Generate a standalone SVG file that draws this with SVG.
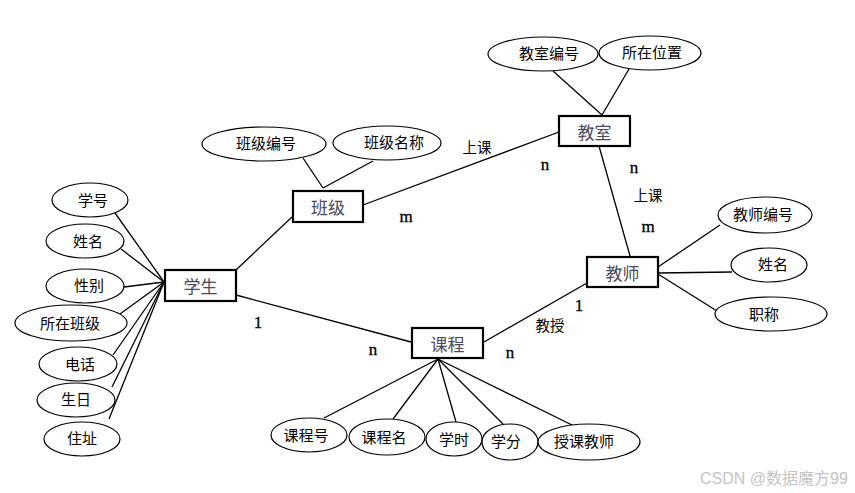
<svg xmlns="http://www.w3.org/2000/svg" width="855" height="493" viewBox="0 0 855 493">
<style>
.ent{fill:#fff;stroke:#000;stroke-width:2.2}
.att{fill:#fff;stroke:#000;stroke-width:1.2}
.et{font-family:"Noto Sans CJK SC","Noto Sans",sans-serif;font-size:17px;fill:#4a4a5a;text-anchor:middle;dominant-baseline:central}
.at{font-family:"Noto Sans CJK SC","Noto Sans",sans-serif;font-size:15px;fill:#000;text-anchor:middle;dominant-baseline:central}
.lb{font-family:"Noto Sans CJK SC","Noto Sans",sans-serif;font-size:14.5px;fill:#000;text-anchor:middle;dominant-baseline:central}
.card{font-family:"Liberation Serif","Times New Roman",serif;font-size:17px;fill:#000;stroke:#000;stroke-width:0.3;text-anchor:middle;dominant-baseline:central}
.wm{font-family:"Liberation Sans",Arial,"Noto Sans CJK SC",sans-serif;font-size:16px;fill:#c4c4c4}
#connectors line{stroke:#000;stroke-width:1.3}
</style>
<rect width="855" height="493" fill="#fff"/>
<g id="connectors">
<line x1="164" y1="282" x2="115" y2="213"/>
<line x1="164" y1="282" x2="121" y2="249"/>
<line x1="164" y1="282" x2="124" y2="287"/>
<line x1="164" y1="282" x2="120" y2="314"/>
<line x1="164" y1="282" x2="113" y2="355"/>
<line x1="164" y1="282" x2="112" y2="387"/>
<line x1="164" y1="282" x2="109" y2="419"/>
<line x1="236" y1="270" x2="292" y2="217"/>
<line x1="236" y1="295" x2="411" y2="342"/>
<line x1="323" y1="188" x2="303" y2="158"/>
<line x1="323" y1="188" x2="373" y2="161"/>
<line x1="363" y1="205" x2="559" y2="132"/>
<line x1="602" y1="115" x2="553" y2="71"/>
<line x1="602" y1="115" x2="629" y2="69"/>
<line x1="599" y1="146" x2="630" y2="256"/>
<line x1="658" y1="267" x2="720" y2="225"/>
<line x1="658" y1="273" x2="732" y2="272"/>
<line x1="658" y1="274" x2="717" y2="311"/>
<line x1="484" y1="342" x2="587" y2="283"/>
<line x1="438" y1="359" x2="324" y2="418"/>
<line x1="438" y1="359" x2="393" y2="419"/>
<line x1="438" y1="359" x2="456" y2="422"/>
<line x1="438" y1="359" x2="503" y2="424"/>
<line x1="438" y1="359" x2="572" y2="425"/>
</g>
<g id="xuesheng"><rect class="ent" x="165" y="270" width="71" height="31"/><text class="et" x="200.5" y="285">学生</text></g>
<g id="banji"><rect class="ent" x="293" y="191" width="70" height="31"/><text class="et" x="328" y="206">班级</text></g>
<g id="jiaoshi_room"><rect class="ent" x="559" y="116" width="71" height="30"/><text class="et" x="594.5" y="131">教室</text></g>
<g id="jiaoshi"><rect class="ent" x="587" y="257" width="71" height="30"/><text class="et" x="622.5" y="272">教师</text></g>
<g id="kecheng"><rect class="ent" x="412" y="328" width="71" height="30"/><text class="et" x="447.5" y="343">课程</text></g>
<g id="a-xuehao"><ellipse class="att" cx="90" cy="200" rx="38" ry="17"/><text class="at" x="93" y="199">学号</text></g>
<g id="a-xingming"><ellipse class="att" cx="85" cy="241" rx="39" ry="17"/><text class="at" x="88" y="240">姓名</text></g>
<g id="a-xingbie"><ellipse class="att" cx="85" cy="286" rx="39" ry="17"/><text class="at" x="89" y="284">性别</text></g>
<g id="a-suozaibanji"><ellipse class="att" cx="71" cy="323" rx="56" ry="18"/><text class="at" x="70" y="322">所在班级</text></g>
<g id="a-dianhua"><ellipse class="att" cx="78" cy="364" rx="39" ry="17"/><text class="at" x="80" y="363">电话</text></g>
<g id="a-shengri"><ellipse class="att" cx="76" cy="400" rx="39" ry="17"/><text class="at" x="76" y="398">生日</text></g>
<g id="a-zhuzhi"><ellipse class="att" cx="82" cy="439" rx="38" ry="17"/><text class="at" x="82" y="437">住址</text></g>
<g id="a-banjibianhao"><ellipse class="att" cx="264" cy="144" rx="62" ry="17"/><text class="at" x="266" y="142">班级编号</text></g>
<g id="a-banjimingcheng"><ellipse class="att" cx="387" cy="143" rx="54" ry="17"/><text class="at" x="394" y="141">班级名称</text></g>
<g id="a-jiaoshibianhao"><ellipse class="att" cx="543" cy="54" rx="55" ry="17"/><text class="at" x="549" y="52">教室编号</text></g>
<g id="a-suozaiweizhi"><ellipse class="att" cx="650" cy="53" rx="51" ry="17"/><text class="at" x="652" y="51">所在位置</text></g>
<g id="a-jiaoshibianhao2"><ellipse class="att" cx="765" cy="215" rx="47" ry="18"/><text class="at" x="763" y="213">教师编号</text></g>
<g id="a-xingming2"><ellipse class="att" cx="769" cy="265" rx="38" ry="17"/><text class="at" x="773" y="263">姓名</text></g>
<g id="a-zhicheng"><ellipse class="att" cx="771" cy="314" rx="56" ry="17"/><text class="at" x="764" y="313">职称</text></g>
<g id="a-kechenghao"><ellipse class="att" cx="309" cy="435" rx="38" ry="17"/><text class="at" x="306" y="434">课程号</text></g>
<g id="a-kechengming"><ellipse class="att" cx="387" cy="437" rx="38" ry="18"/><text class="at" x="384" y="436">课程名</text></g>
<g id="a-xueshi"><ellipse class="att" cx="454" cy="439" rx="28" ry="17"/><text class="at" x="454" y="438">学时</text></g>
<g id="a-xuefen"><ellipse class="att" cx="510" cy="442" rx="28" ry="18"/><text class="at" x="506" y="440">学分</text></g>
<g id="a-shoukejiaoshi"><ellipse class="att" cx="589" cy="442" rx="51" ry="18"/><text class="at" x="584" y="440">授课教师</text></g>
<g id="labels">
<text class="lb" x="477" y="146">上课</text>
<text class="lb" x="648" y="194">上课</text>
<text class="lb" x="550" y="324">教授</text>
<text class="card" x="545" y="164">n</text>
<text class="card" x="406" y="216">m</text>
<text class="card" x="634" y="167">n</text>
<text class="card" x="648" y="226">m</text>
<text class="card" x="579" y="305">1</text>
<text class="card" x="258" y="322">1</text>
<text class="card" x="373" y="349">n</text>
<text class="card" x="510" y="352">n</text>
</g>
<text class="wm" x="700" y="484">CSDN @数据魔方99</text>
</svg>
